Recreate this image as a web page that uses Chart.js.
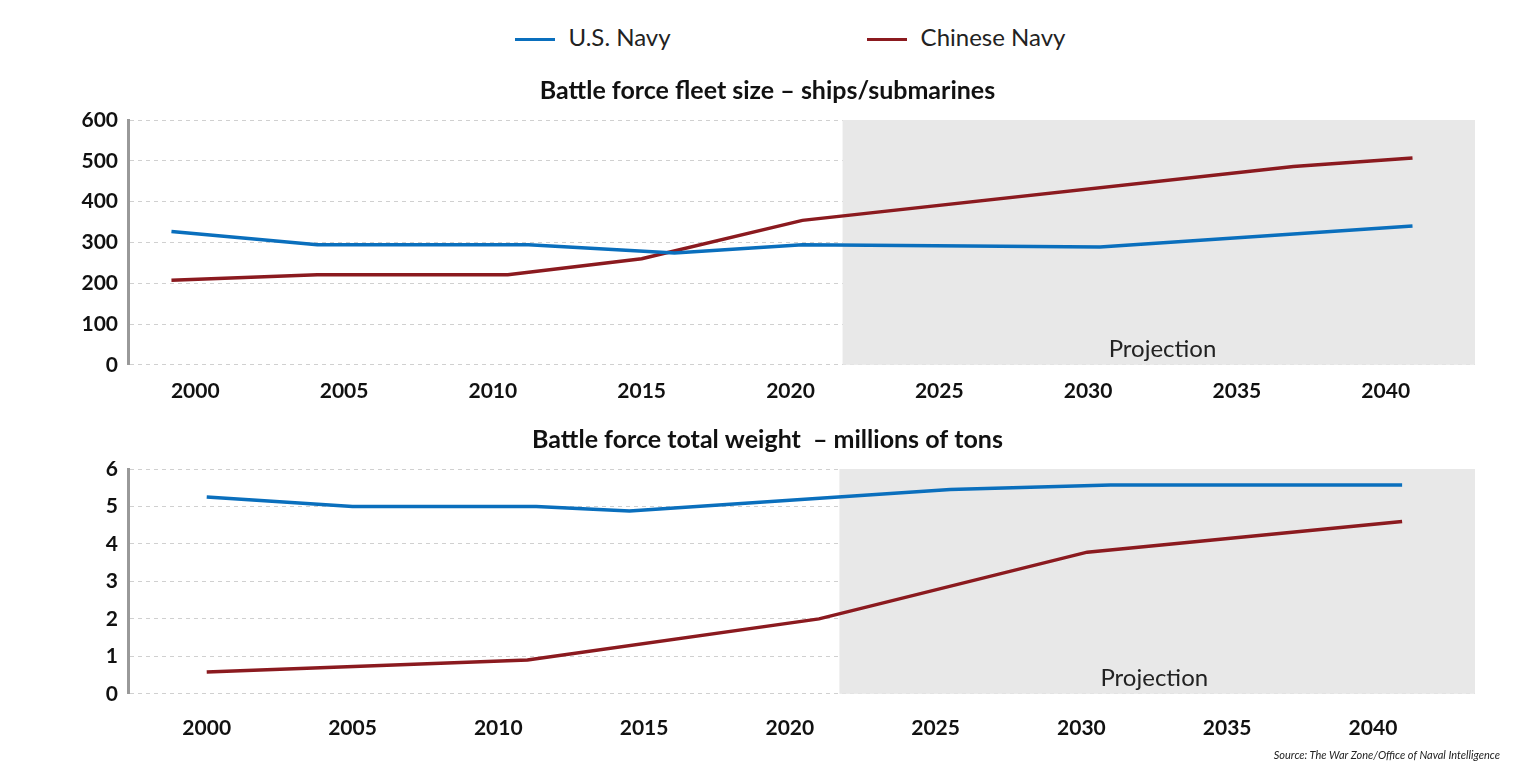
<!DOCTYPE html>
<html><head><meta charset="utf-8">
<script src="https://cdn.jsdelivr.net/npm/chart.js@4/dist/chart.umd.min.js"></script>
<style>
body{margin:0;background:#fff;font-family:Lato,sans-serif;width:1536px;height:775px;overflow:hidden;position:relative}
.wrap{position:absolute;left:0;width:1475px}
#legend{position:absolute;top:22px;left:0;width:1580px;text-align:center;font-size:24px;color:#222}
#legend span{display:inline-block;margin:0 98px}
#legend i{display:inline-block;width:40px;height:3px;vertical-align:middle;margin-right:14px}
#src{position:absolute;right:36px;top:748px;font-size:11px;font-style:italic;color:#222}
</style></head><body>
<div id="legend"><span><i style="background:#0a6fbd"></i>U.S. Navy</span><span><i style="background:#8b1a1f"></i>Chinese Navy</span></div>
<div class="wrap" style="top:76px;height:334px"><canvas id="c1"></canvas></div>
<div class="wrap" style="top:425px;height:330px"><canvas id="c2"></canvas></div>
<div id="src">Source: The War Zone/Office of Naval Intelligence</div>
<script>
var yearTicks = [2000,2005,2010,2015,2020,2025,2030,2035,2040];

var fleetUSYears = [1999.2,2004.1,2011.2,2016.1,2020.4,2030.4,2040.9];
var fleetUS      = [327,294,294,274,294,289,340];
var fleetCNYears = [1999.2,2004.1,2010.5,2015,2020.4,2036.9,2040.9];
var fleetCN      = [207,221,221,260,354,486,507];

var weightUSYears = [2000,2005,2011.3,2014.5,2025.5,2031,2041];
var weightUS      = [5.25,5.0,5.0,4.88,5.45,5.57,5.57];
var weightCNYears = [2000,2011,2021,2030.2,2041];
var weightCN      = [0.58,0.9,2.0,3.78,4.6];

function pts(xs, ys){ return xs.map(function(x,i){ return {x:x, y:ys[i]}; }); }

var shade = {
  id:'shade',
  beforeDatasetsDraw: function(chart, args, opts){
    var a = chart.chartArea, ctx = chart.ctx, x0 = chart.scales.x.getPixelForValue(opts.from);
    ctx.save();
    ctx.fillStyle = '#e8e8e8';
    ctx.fillRect(x0, a.top, a.right - x0, a.bottom - a.top);
    ctx.fillStyle = '#222';
    ctx.font = '24px Lato';
    ctx.textAlign = 'center';
    ctx.fillText('Projection', chart.scales.x.getPixelForValue(2032.5), a.bottom - 8);
    ctx.restore();
  }
};

function makeChart(canvas, title, us, cn, xmin, xmax, from, ymax, ystep, xpad){
  return new Chart(canvas, {
    type:'line',
    data:{datasets:[
      {label:'U.S. Navy', data:us, borderColor:'#0a6fbd', borderWidth:3.5, pointRadius:0, tension:0},
      {label:'Chinese Navy', data:cn, borderColor:'#8b1a1f', borderWidth:3.5, pointRadius:0, tension:0}
    ]},
    plugins:[shade],
    options:{
      responsive:true, maintainAspectRatio:false, animation:false,
      layout:{padding:{left:60,right:0}},
      plugins:{
        legend:{display:false},
        tooltip:{enabled:false},
        shade:{from:from},
        title:{display:true, text:title, color:'#111', font:{family:'Lato', size:25, weight:'bold'}, padding:{top:0,bottom:14}}
      },
      scales:{
        x:{type:'linear', min:xmin, max:xmax,
           afterBuildTicks:function(s){ s.ticks = yearTicks.map(function(v){return {value:v};}); },
           grid:{display:false}, border:{display:false},
           ticks:{color:'#111', font:{family:'Lato', size:21, weight:'bold'}, padding:xpad,
                  callback:function(v){ return String(v); }}},
        y:{min:0, max:ymax,
           afterFit:function(s){ s.width = 68; },
           ticks:{stepSize:ystep, color:'#111', font:{family:'Lato', size:21, weight:'bold'}, padding:10},
           grid:{color:'#d0d0d0', drawTicks:false},
           border:{display:true, color:'#999', width:3, dash:[4,4]}}
      }
    }
  });
}

var c1 = makeChart(document.getElementById('c1'), 'Battle force fleet size \u2013 ships/submarines',
  pts(fleetUSYears, fleetUS), pts(fleetCNYears, fleetCN), 1997.74, 2043, 2021.75, 600, 100, 6);
var c2 = makeChart(document.getElementById('c2'), 'Battle force total weight  \u2013 millions of tons',
  pts(weightUSYears, weightUS), pts(weightCNYears, weightCN), 1997.3, 2043.5, 2021.7, 6, 1, 14);
</script>
</body></html>
